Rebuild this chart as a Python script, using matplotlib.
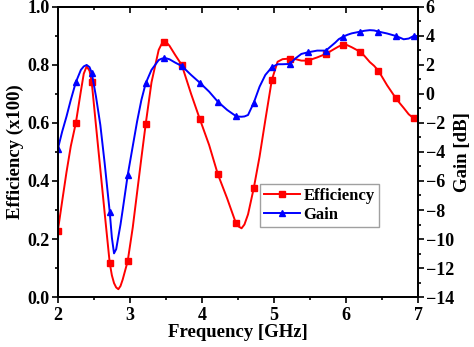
import matplotlib
matplotlib.use("Agg")
import matplotlib.pyplot as plt
from matplotlib.ticker import MultipleLocator

plt.rcParams.update({
    "font.family": "Liberation Serif",
    "font.weight": "bold",
    "axes.linewidth": 1.3,
})

# frequency grid (GHz) shared by both traces
freq = [2.00, 2.06, 2.12, 2.18, 2.25, 2.32, 2.36, 2.40, 2.44, 2.47, 2.53,
        2.59, 2.65, 2.72, 2.75, 2.78, 2.81, 2.84, 2.87, 2.90, 2.97, 3.04,
        3.10, 3.16, 3.22, 3.30, 3.40, 3.44, 3.47, 3.51, 3.55, 3.63, 3.72,
        3.85, 3.97, 4.10, 4.22, 4.35, 4.47, 4.51, 4.55, 4.59, 4.64, 4.72,
        4.80, 4.88, 4.97, 5.05, 5.12, 5.22, 5.30, 5.38, 5.47, 5.60, 5.72,
        5.85, 5.90, 5.96, 6.02, 6.08, 6.20, 6.26, 6.33, 6.39, 6.45, 6.57,
        6.69, 6.75, 6.80, 6.87, 6.94, 7.00]

efficiency = [0.228, 0.33, 0.43, 0.52, 0.60, 0.71, 0.77, 0.795, 0.78, 0.742,
              0.59, 0.44, 0.29, 0.118, 0.075, 0.048, 0.033, 0.027, 0.038,
              0.06, 0.124, 0.24, 0.36, 0.48, 0.597, 0.74, 0.852, 0.872,
              0.880, 0.877, 0.866, 0.834, 0.80, 0.70, 0.614, 0.524, 0.424,
              0.34, 0.256, 0.243, 0.237, 0.25, 0.285, 0.376, 0.484, 0.61,
              0.748, 0.811, 0.82, 0.822, 0.82, 0.815, 0.815, 0.826, 0.838,
              0.857, 0.864, 0.870, 0.868, 0.861, 0.845, 0.83, 0.81, 0.797,
              0.78, 0.73, 0.686, 0.667, 0.652, 0.63, 0.616, 0.615]

gain = [-3.79, -2.6, -1.56, -0.41, 0.81, 1.66, 1.9, 2.0, 1.85, 1.47, -0.19,
        -2.14, -4.77, -8.12, -9.9, -10.99, -10.7, -9.84, -9.0, -8.0, -5.59,
        -3.6, -1.9, -0.41, 0.74, 1.66, 2.34, 2.43, 2.46, 2.45, 2.39, 2.16,
        1.93, 1.31, 0.78, 0.16, -0.53, -1.1, -1.52, -1.56, -1.57, -1.55,
        -1.45, -0.6, 0.5, 1.31, 1.84, 2.05, 2.05, 2.07, 2.46, 2.76, 2.87,
        2.99, 2.99, 3.54, 3.78, 3.95, 4.08, 4.18, 4.30, 4.36, 4.40, 4.38,
        4.30, 4.17, 4.00, 3.88, 3.77, 3.82, 4.00, 4.00]

marker_freq = [2.00, 2.25, 2.47, 2.72, 2.97, 3.22, 3.47, 3.72, 3.97, 4.22,
               4.47, 4.72, 4.97, 5.22, 5.47, 5.72, 5.96, 6.20, 6.45, 6.69,
               6.94]
marks = [freq.index(f) for f in marker_freq]

fig = plt.figure(figsize=(4.74, 3.47), dpi=100)
ax = fig.add_axes([0.122, 0.144, 0.760, 0.836])
ax2 = ax.twinx()

l1, = ax.plot(freq, efficiency, color="#ff0000", lw=1.4, marker="s",
              ms=4, markevery=marks, label="Efficiency")
l2, = ax2.plot(freq, gain, color="#0000ff", lw=1.4, marker="^",
               ms=4.5, markevery=marks, label="Gain")

ax.set_xlim(2, 7)
ax.set_ylim(0, 1.0)
ax2.set_ylim(-14, 6)

ax.xaxis.set_major_locator(MultipleLocator(1))
ax.xaxis.set_minor_locator(MultipleLocator(0.5))
ax.yaxis.set_major_locator(MultipleLocator(0.2))
ax.yaxis.set_minor_locator(MultipleLocator(0.1))
ax2.yaxis.set_major_locator(MultipleLocator(2))
ax2.yaxis.set_minor_locator(MultipleLocator(1))

ax.tick_params(axis="x", which="both", direction="out", top=False,
               labelsize=13, width=1.2)
ax.tick_params(axis="x", which="major", length=4)
ax.tick_params(axis="x", which="minor", length=2.5)
ax.tick_params(axis="y", which="both", direction="out", labelsize=13,
               width=1.2, pad=2)
ax.tick_params(axis="y", which="major", length=4)
ax.tick_params(axis="y", which="minor", length=2.5)
ax2.tick_params(axis="y", which="both", direction="out", labelsize=13,
                width=1.2, pad=1.5)
ax2.tick_params(axis="y", which="major", length=4)
ax2.tick_params(axis="y", which="minor", length=2.5)
ax.yaxis.set_major_formatter(plt.FuncFormatter(lambda v, p: f"{v:.1f}"))

# mirrored top axis with inward ticks, no labels
top = ax.secondary_xaxis("top")
top.xaxis.set_major_locator(MultipleLocator(1))
top.xaxis.set_minor_locator(MultipleLocator(0.5))
top.tick_params(which="both", direction="in", labeltop=False, width=1.2)
top.tick_params(which="major", length=4)
top.tick_params(which="minor", length=2.5)

ax.set_xlabel("Frequency [GHz]", fontsize=13.5, fontweight="bold", labelpad=0)
ax.set_ylabel("Efficiency (x100)", fontsize=13.5, fontweight="bold", labelpad=2)
ax2.set_ylabel("Gain [dB]", fontsize=13.5, fontweight="bold", rotation=90,
               labelpad=0)

leg = ax.legend(handles=[l1, l2], loc="upper left",
                bbox_to_anchor=(0.56, 0.39), fontsize=12, frameon=True,
                fancybox=False, edgecolor="#888888", handlelength=2.2,
                borderpad=0.25, labelspacing=0.15, handletextpad=0.2,
                borderaxespad=0)
leg.get_frame().set_linewidth(1.0)

fig.savefig("out.png", dpi=100)
